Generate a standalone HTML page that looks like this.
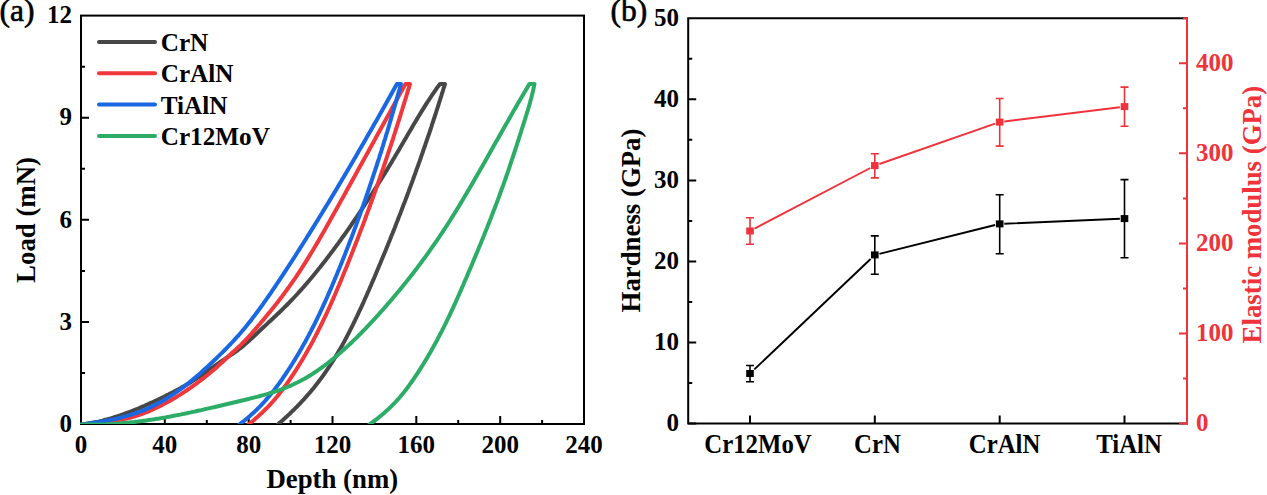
<!DOCTYPE html>
<html><head><meta charset="utf-8"><style>
html,body{margin:0;padding:0;background:#fff;}
svg{display:block;}
</style></head><body>
<svg width="1267" height="495" viewBox="0 0 1267 495">
<rect width="1267" height="495" fill="#fff"/>
<rect x="81" y="15.6" width="503" height="408.4" fill="none" stroke="#000" stroke-width="2"/>
<path d="M81.0,424V416 M122.9,424V420 M164.8,424V416 M206.8,424V420 M248.7,424V416 M290.6,424V420 M332.5,424V416 M374.4,424V420 M416.3,424V416 M458.2,424V420 M500.2,424V416 M542.1,424V420 M584.0,424V416 M81,424.0H89 M81,372.9H85 M81,321.9H89 M81,270.9H85 M81,219.8H89 M81,168.8H85 M81,117.7H89 M81,66.7H85" stroke="#000" stroke-width="2" fill="none"/>
<clipPath id="cl"><rect x="80" y="15.6" width="504" height="408.4"/></clipPath><g clip-path="url(#cl)">
<path transform="translate(0.5,0.4)" d="M81.0,424.0 L83.1,423.8 L85.2,423.5 L87.3,423.2 L89.4,422.8 L91.5,422.4 L93.6,422.0 L95.7,421.6 L97.8,421.2 L99.9,420.7 L102.0,420.2 L104.1,419.6 L106.2,419.1 L108.3,418.5 L110.4,417.9 L112.5,417.3 L114.6,416.6 L116.7,415.9 L118.8,415.2 L120.9,414.5 L123.0,413.8 L125.1,413.0 L127.2,412.2 L129.3,411.4 L131.4,410.6 L133.5,409.8 L135.6,408.9 L137.7,408.1 L139.8,407.2 L141.9,406.3 L144.0,405.4 L146.1,404.4 L148.2,403.5 L150.3,402.5 L152.4,401.6 L154.5,400.6 L156.6,399.6 L158.7,398.6 L160.8,397.6 L162.9,396.6 L165.0,395.5 L167.1,394.5 L169.2,393.4 L171.3,392.3 L173.4,391.3 L175.5,390.1 L177.6,389.0 L179.7,387.9 L181.8,386.7 L183.9,385.5 L186.0,384.3 L188.1,383.1 L190.2,381.8 L192.3,380.5 L194.4,379.2 L196.5,377.8 L198.6,376.4 L200.7,375.0 L202.8,373.6 L204.9,372.1 L207.0,370.6 L209.1,369.1 L211.2,367.6 L213.3,366.2 L215.4,364.7 L217.5,363.2 L219.6,361.8 L221.7,360.3 L223.8,358.9 L225.9,357.6 L228.0,356.2 L230.1,354.8 L232.2,353.4 L234.3,351.9 L236.4,350.4 L238.5,348.8 L240.6,347.2 L242.7,345.5 L244.8,343.7 L246.9,341.8 L249.0,340.0 L251.1,338.0 L253.2,336.1 L255.3,334.1 L257.4,332.1 L259.5,330.1 L261.6,328.1 L263.7,326.2 L265.8,324.2 L267.9,322.2 L270.0,320.3 L272.1,318.3 L274.2,316.3 L276.3,314.3 L278.4,312.3 L280.5,310.3 L282.6,308.3 L284.7,306.2 L286.8,304.1 L288.9,302.0 L290.3,300.5 L291.7,299.1 L293.1,297.6 L294.5,296.1 L295.9,294.6 L297.3,293.1 L298.7,291.5 L300.1,290.0 L301.5,288.4 L302.9,286.8 L304.3,285.2 L305.7,283.6 L307.1,282.0 L308.5,280.4 L309.9,278.7 L311.3,277.0 L312.7,275.3 L314.1,273.6 L315.5,271.9 L316.9,270.2 L318.3,268.4 L319.7,266.7 L321.1,264.9 L322.5,263.1 L323.9,261.3 L325.3,259.5 L326.7,257.7 L328.1,255.9 L329.5,254.0 L330.9,252.1 L332.3,250.3 L333.7,248.4 L335.1,246.5 L336.5,244.6 L337.9,242.7 L339.3,240.7 L340.7,238.8 L342.1,236.8 L343.5,234.9 L344.9,232.9 L346.3,230.9 L347.7,228.9 L349.1,226.9 L350.5,224.9 L351.9,222.8 L353.3,220.8 L354.7,218.7 L356.1,216.7 L357.5,214.6 L358.9,212.5 L360.3,210.4 L361.7,208.3 L363.1,206.2 L364.5,204.1 L365.9,201.9 L367.3,199.8 L368.7,197.6 L370.1,195.5 L371.5,193.3 L372.9,191.1 L374.3,188.9 L375.7,186.7 L377.1,184.5 L378.5,182.3 L379.9,180.0 L381.3,177.8 L382.7,175.5 L384.1,173.3 L385.5,171.0 L386.9,168.7 L388.3,166.4 L389.7,164.1 L391.1,161.8 L392.5,159.4 L393.9,157.1 L395.3,154.7 L396.7,152.4 L398.1,150.0 L399.5,147.6 L400.9,145.2 L402.3,142.8 L403.7,140.4 L405.1,138.0 L406.5,135.6 L407.9,133.2 L409.3,130.8 L410.7,128.5 L412.1,126.1 L413.5,123.7 L414.9,121.3 L416.3,119.0 L417.7,116.6 L419.1,114.3 L420.5,112.0 L421.9,109.7 L423.3,107.5 L424.7,105.2 L426.1,103.0 L427.5,100.8 L428.9,98.7 L430.3,96.6 L431.7,94.5 L433.1,92.4 L434.5,90.4 L435.9,88.4 L437.3,86.5 L438.7,84.6 L439.5,83.5 L444.5,83.5 L443.8,85.9 L443.0,88.3 L442.3,90.7 L441.5,93.1 L440.8,95.5 L440.0,97.9 L439.3,100.3 L438.5,102.7 L437.8,105.1 L437.0,107.5 L436.2,109.9 L435.5,112.3 L434.7,114.7 L433.9,117.1 L433.1,119.5 L432.3,121.9 L431.5,124.3 L430.8,126.7 L430.0,129.1 L429.2,131.5 L428.4,133.9 L427.5,136.3 L426.7,138.7 L425.9,141.1 L425.1,143.5 L424.3,145.9 L423.4,148.3 L422.6,150.7 L421.8,153.1 L420.9,155.5 L420.1,157.9 L419.3,160.3 L418.4,162.7 L417.6,165.1 L416.7,167.5 L415.8,169.9 L415.0,172.3 L414.1,174.7 L413.2,177.1 L412.4,179.5 L411.5,181.9 L410.6,184.3 L409.7,186.7 L408.8,189.1 L408.0,191.5 L407.1,193.9 L406.2,196.3 L405.3,198.7 L404.4,201.1 L403.4,203.5 L402.5,205.9 L401.6,208.3 L400.7,210.7 L399.8,213.1 L398.8,215.5 L397.9,217.9 L397.0,220.3 L396.0,222.7 L395.1,225.1 L394.2,227.5 L393.2,229.9 L392.3,232.3 L391.3,234.7 L390.3,237.1 L389.4,239.5 L388.4,241.9 L387.4,244.3 L386.5,246.7 L385.5,249.1 L384.5,251.5 L383.5,253.9 L382.5,256.3 L381.5,258.7 L380.5,261.1 L379.5,263.5 L378.5,265.9 L377.5,268.3 L376.5,270.7 L375.5,273.1 L374.5,275.5 L373.5,277.9 L372.4,280.3 L371.4,282.7 L370.4,285.1 L369.3,287.5 L368.3,289.9 L367.2,292.3 L366.2,294.7 L365.1,297.1 L364.0,299.5 L363.0,301.9 L361.9,304.3 L360.8,306.7 L359.7,309.1 L358.5,311.5 L357.4,313.9 L356.3,316.3 L355.1,318.7 L354.0,321.1 L352.8,323.5 L351.6,325.9 L350.4,328.3 L349.2,330.7 L348.0,333.1 L346.7,335.5 L345.5,337.9 L344.2,340.3 L342.9,342.7 L341.6,345.1 L340.2,347.5 L338.8,349.9 L337.4,352.3 L336.0,354.7 L334.6,357.1 L333.1,359.5 L331.6,361.9 L330.0,364.3 L328.4,366.7 L326.8,369.1 L325.2,371.5 L323.5,373.9 L321.8,376.3 L320.0,378.7 L318.2,381.1 L317.0,382.7 L315.7,384.3 L314.5,385.9 L313.2,387.5 L311.9,389.1 L310.6,390.7 L309.2,392.3 L307.8,393.9 L306.4,395.5 L305.0,397.1 L303.6,398.7 L302.1,400.3 L300.6,401.9 L299.1,403.5 L297.6,405.1 L296.0,406.7 L294.4,408.3 L292.8,409.9 L291.1,411.5 L289.5,413.1 L287.8,414.7 L286.0,416.3 L284.3,417.9 L282.5,419.5 L280.7,421.1 L278.8,422.7 L277.3,424.0" fill="none" stroke="#474747" stroke-width="4" stroke-linejoin="round" stroke-linecap="round"/>
<path transform="translate(0.5,0.4)" d="M81.0,424.0 L83.1,424.4 L85.2,424.5 L87.3,424.5 L89.4,424.3 L91.5,424.0 L93.6,423.7 L95.7,423.3 L97.8,422.8 L99.9,422.4 L102.0,422.0 L104.1,421.7 L106.2,421.3 L108.3,421.0 L110.4,420.7 L112.5,420.4 L114.6,420.1 L116.7,419.8 L118.8,419.5 L120.9,419.1 L123.0,418.7 L125.1,418.3 L127.2,417.8 L129.3,417.3 L131.4,416.8 L133.5,416.2 L135.6,415.5 L137.7,414.9 L139.8,414.1 L141.9,413.4 L144.0,412.6 L146.1,411.8 L148.2,410.9 L150.3,410.0 L152.4,409.1 L154.5,408.1 L156.6,407.1 L158.7,406.1 L160.8,405.0 L162.9,403.9 L165.0,402.8 L167.1,401.7 L169.2,400.5 L171.3,399.3 L173.4,398.0 L175.5,396.8 L177.6,395.5 L179.7,394.2 L181.8,392.8 L183.9,391.5 L186.0,390.1 L188.1,388.6 L190.2,387.2 L192.3,385.7 L194.4,384.2 L196.5,382.7 L198.6,381.1 L200.7,379.5 L202.8,377.9 L204.9,376.3 L207.0,374.6 L209.1,372.9 L211.2,371.1 L213.3,369.3 L215.4,367.5 L217.5,365.6 L219.6,363.7 L221.7,361.8 L223.8,359.8 L225.9,357.8 L228.0,355.8 L230.1,353.9 L232.2,351.9 L234.3,350.0 L236.4,348.1 L238.5,346.2 L240.6,344.2 L242.7,342.1 L244.1,340.7 L245.5,339.2 L246.9,337.7 L248.3,336.2 L249.7,334.6 L251.1,333.1 L252.5,331.5 L253.9,329.9 L255.3,328.2 L256.7,326.6 L258.1,324.9 L259.5,323.3 L260.9,321.6 L262.3,320.0 L263.7,318.3 L265.1,316.6 L266.5,314.9 L267.9,313.2 L269.3,311.5 L270.7,309.8 L272.1,308.0 L273.5,306.3 L274.9,304.5 L276.3,302.8 L277.7,301.0 L279.1,299.2 L280.5,297.3 L281.9,295.5 L283.3,293.6 L284.7,291.7 L286.1,289.8 L287.5,287.9 L288.9,286.0 L290.3,284.0 L291.7,282.0 L293.1,280.0 L294.5,278.0 L295.9,275.9 L297.3,273.8 L298.7,271.7 L300.1,269.6 L301.5,267.4 L302.9,265.2 L304.3,263.0 L305.7,260.7 L307.1,258.5 L308.5,256.2 L309.9,253.9 L311.3,251.6 L312.7,249.3 L314.1,246.9 L315.5,244.5 L316.9,242.2 L318.3,239.8 L319.7,237.3 L321.1,234.9 L322.5,232.5 L323.9,230.0 L325.3,227.6 L326.7,225.1 L328.1,222.6 L329.5,220.1 L330.9,217.6 L332.3,215.1 L333.7,212.6 L335.1,210.1 L336.5,207.6 L337.9,205.1 L339.3,202.6 L340.7,200.0 L342.1,197.5 L343.5,195.0 L344.9,192.5 L346.3,189.9 L347.7,187.4 L349.1,184.9 L350.5,182.3 L351.9,179.8 L353.3,177.3 L354.7,174.8 L356.1,172.2 L357.5,169.7 L358.9,167.2 L360.3,164.6 L361.7,162.1 L363.1,159.6 L364.5,157.0 L365.9,154.5 L367.3,152.0 L368.7,149.4 L370.1,146.9 L371.5,144.3 L372.9,141.8 L374.3,139.2 L375.7,136.7 L377.1,134.2 L378.5,131.6 L379.9,129.1 L381.3,126.5 L382.7,124.0 L384.1,121.4 L385.5,118.9 L386.9,116.3 L388.3,113.8 L389.7,111.2 L391.1,108.7 L392.5,106.1 L393.9,103.6 L395.3,101.0 L396.7,98.5 L398.1,95.9 L399.5,93.4 L400.9,90.9 L402.3,88.4 L403.7,85.8 L405.0,83.5 L409.5,83.5 L408.8,85.9 L408.1,88.3 L407.3,90.7 L406.6,93.1 L405.9,95.5 L405.2,97.9 L404.4,100.3 L403.7,102.7 L403.0,105.1 L402.2,107.5 L401.5,109.9 L400.7,112.3 L400.0,114.7 L399.2,117.1 L398.5,119.5 L397.7,121.9 L397.0,124.3 L396.2,126.7 L395.4,129.1 L394.7,131.5 L393.9,133.9 L393.1,136.3 L392.4,138.7 L391.6,141.1 L390.8,143.5 L390.0,145.9 L389.2,148.3 L388.4,150.7 L387.6,153.1 L386.8,155.5 L386.0,157.9 L385.2,160.3 L384.4,162.7 L383.6,165.1 L382.8,167.5 L382.0,169.9 L381.1,172.3 L380.3,174.7 L379.5,177.1 L378.6,179.5 L377.8,181.9 L377.0,184.3 L376.1,186.7 L375.3,189.1 L374.4,191.5 L373.6,193.9 L372.7,196.3 L371.9,198.7 L371.0,201.1 L370.1,203.5 L369.3,205.9 L368.4,208.3 L367.5,210.7 L366.6,213.1 L365.7,215.5 L364.9,217.9 L364.0,220.3 L363.1,222.7 L362.2,225.1 L361.3,227.5 L360.3,229.9 L359.4,232.3 L358.5,234.7 L357.6,237.1 L356.7,239.5 L355.7,241.9 L354.8,244.3 L353.9,246.7 L352.9,249.1 L352.0,251.5 L351.1,253.9 L350.1,256.3 L349.1,258.7 L348.2,261.1 L347.2,263.5 L346.3,265.9 L345.3,268.3 L344.3,270.7 L343.3,273.1 L342.3,275.5 L341.4,277.9 L340.4,280.3 L339.4,282.7 L338.4,285.1 L337.3,287.5 L336.3,289.9 L335.3,292.3 L334.3,294.7 L333.2,297.1 L332.2,299.5 L331.1,301.9 L330.1,304.3 L329.0,306.7 L327.9,309.1 L326.8,311.5 L325.7,313.9 L324.6,316.3 L323.4,318.7 L322.3,321.1 L321.1,323.5 L319.9,325.9 L318.7,328.3 L317.5,330.7 L316.3,333.1 L315.1,335.5 L313.8,337.9 L312.6,340.3 L311.3,342.7 L310.0,345.1 L308.6,347.5 L307.3,349.9 L305.9,352.3 L304.6,354.7 L303.2,357.1 L301.7,359.5 L300.3,361.9 L298.8,364.3 L297.3,366.7 L295.8,369.1 L294.3,371.5 L292.7,373.9 L291.1,376.3 L289.5,378.7 L287.9,381.1 L286.2,383.5 L284.5,385.9 L282.7,388.3 L281.5,389.9 L280.3,391.5 L279.0,393.1 L277.8,394.7 L276.5,396.3 L275.1,397.9 L273.8,399.5 L272.4,401.1 L270.9,402.7 L269.5,404.3 L268.0,405.9 L266.4,407.5 L264.8,409.1 L263.2,410.7 L261.6,412.3 L259.8,413.9 L258.1,415.5 L256.3,417.1 L254.5,418.7 L252.6,420.3 L250.6,421.9 L248.6,423.5 L248.0,424.0" fill="none" stroke="#F0373B" stroke-width="4" stroke-linejoin="round" stroke-linecap="round"/>
<path transform="translate(0.5,0.4)" d="M81.0,424.0 L83.1,423.7 L85.2,423.5 L87.3,423.2 L89.4,422.9 L91.5,422.6 L93.6,422.3 L95.7,422.0 L97.8,421.7 L99.9,421.3 L102.0,421.0 L104.1,420.6 L106.2,420.2 L108.3,419.8 L110.4,419.4 L112.5,419.0 L114.6,418.5 L116.7,418.1 L118.8,417.6 L120.9,417.0 L123.0,416.5 L125.1,415.9 L127.2,415.3 L129.3,414.7 L131.4,414.0 L133.5,413.3 L135.6,412.6 L137.7,411.9 L139.8,411.1 L141.9,410.3 L144.0,409.4 L146.1,408.5 L148.2,407.6 L150.3,406.7 L152.4,405.7 L154.5,404.6 L156.6,403.6 L158.7,402.4 L160.8,401.3 L162.9,400.1 L165.0,398.8 L167.1,397.5 L169.2,396.2 L171.3,394.8 L173.4,393.4 L175.5,392.0 L177.6,390.5 L179.7,389.0 L181.8,387.4 L183.9,385.9 L186.0,384.2 L188.1,382.6 L190.2,380.9 L192.3,379.2 L194.4,377.4 L196.5,375.6 L198.6,373.8 L200.7,372.0 L202.8,370.1 L204.9,368.2 L207.0,366.3 L209.1,364.3 L211.2,362.4 L213.3,360.4 L215.4,358.4 L217.5,356.3 L219.6,354.2 L221.7,352.2 L223.8,350.1 L225.9,347.9 L227.3,346.5 L228.7,345.0 L230.1,343.6 L231.5,342.1 L232.9,340.6 L234.3,339.0 L235.7,337.5 L237.1,335.9 L238.5,334.4 L239.9,332.8 L241.3,331.1 L242.7,329.5 L244.1,327.8 L245.5,326.1 L246.9,324.4 L248.3,322.6 L249.7,320.8 L251.1,319.0 L252.5,317.2 L253.9,315.4 L255.3,313.5 L256.7,311.6 L258.1,309.7 L259.5,307.8 L260.9,305.9 L262.3,303.9 L263.7,301.9 L265.1,300.0 L266.5,298.0 L267.9,295.9 L269.3,293.9 L270.7,291.9 L272.1,289.8 L273.5,287.8 L274.9,285.7 L276.3,283.6 L277.7,281.5 L279.1,279.4 L280.5,277.3 L281.9,275.2 L283.3,273.0 L284.7,270.9 L286.1,268.8 L287.5,266.6 L288.9,264.5 L290.3,262.3 L291.7,260.2 L293.1,258.0 L294.5,255.8 L295.9,253.6 L297.3,251.4 L298.7,249.2 L300.1,247.0 L301.5,244.8 L302.9,242.6 L304.3,240.4 L305.7,238.2 L307.1,235.9 L308.5,233.7 L309.9,231.5 L311.3,229.2 L312.7,227.0 L314.1,224.7 L315.5,222.4 L316.9,220.2 L318.3,217.9 L319.7,215.6 L321.1,213.3 L322.5,211.0 L323.9,208.7 L325.3,206.4 L326.7,204.1 L328.1,201.8 L329.5,199.5 L330.9,197.2 L332.3,194.8 L333.7,192.5 L335.1,190.2 L336.5,187.8 L337.9,185.5 L339.3,183.1 L340.7,180.8 L342.1,178.4 L343.5,176.0 L344.9,173.7 L346.3,171.3 L347.7,168.9 L349.1,166.5 L350.5,164.2 L351.9,161.8 L353.3,159.4 L354.7,157.0 L356.1,154.6 L357.5,152.1 L358.9,149.7 L360.3,147.3 L361.7,144.9 L363.1,142.5 L364.5,140.0 L365.9,137.6 L367.3,135.2 L368.7,132.7 L370.1,130.3 L371.5,127.8 L372.9,125.4 L374.3,122.9 L375.7,120.5 L377.1,118.0 L378.5,115.5 L379.9,113.1 L381.3,110.6 L382.7,108.1 L384.1,105.6 L385.5,103.1 L386.9,100.7 L388.3,98.2 L389.7,95.7 L391.1,93.2 L392.5,90.7 L393.9,88.2 L395.3,85.7 L396.5,83.5 L400.5,83.5 L399.8,85.9 L399.2,88.3 L398.5,90.7 L397.8,93.1 L397.2,95.5 L396.5,97.9 L395.8,100.3 L395.1,102.7 L394.4,105.1 L393.7,107.5 L393.0,109.9 L392.3,112.3 L391.6,114.7 L390.9,117.1 L390.2,119.5 L389.5,121.9 L388.8,124.3 L388.1,126.7 L387.4,129.1 L386.7,131.5 L385.9,133.9 L385.2,136.3 L384.5,138.7 L383.7,141.1 L383.0,143.5 L382.3,145.9 L381.5,148.3 L380.8,150.7 L380.0,153.1 L379.2,155.5 L378.5,157.9 L377.7,160.3 L376.9,162.7 L376.2,165.1 L375.4,167.5 L374.6,169.9 L373.8,172.3 L373.0,174.7 L372.2,177.1 L371.4,179.5 L370.6,181.9 L369.8,184.3 L369.0,186.7 L368.2,189.1 L367.4,191.5 L366.6,193.9 L365.7,196.3 L364.9,198.7 L364.1,201.1 L363.2,203.5 L362.4,205.9 L361.5,208.3 L360.7,210.7 L359.8,213.1 L359.0,215.5 L358.1,217.9 L357.2,220.3 L356.3,222.7 L355.5,225.1 L354.6,227.5 L353.7,229.9 L352.8,232.3 L351.9,234.7 L351.0,237.1 L350.0,239.5 L349.1,241.9 L348.2,244.3 L347.3,246.7 L346.3,249.1 L345.4,251.5 L344.5,253.9 L343.5,256.3 L342.6,258.7 L341.6,261.1 L340.6,263.5 L339.7,265.9 L338.7,268.3 L337.7,270.7 L336.7,273.1 L335.7,275.5 L334.7,277.9 L333.7,280.3 L332.7,282.7 L331.7,285.1 L330.7,287.5 L329.6,289.9 L328.6,292.3 L327.5,294.7 L326.5,297.1 L325.4,299.5 L324.3,301.9 L323.2,304.3 L322.1,306.7 L321.0,309.1 L319.9,311.5 L318.8,313.9 L317.6,316.3 L316.4,318.7 L315.3,321.1 L314.1,323.5 L312.9,325.9 L311.6,328.3 L310.4,330.7 L309.1,333.1 L307.9,335.5 L306.6,337.9 L305.3,340.3 L304.0,342.7 L302.6,345.1 L301.3,347.5 L299.9,349.9 L298.5,352.3 L297.1,354.7 L295.6,357.1 L294.2,359.5 L292.7,361.9 L291.2,364.3 L289.7,366.7 L288.1,369.1 L286.5,371.5 L284.9,373.9 L283.3,376.3 L281.7,378.7 L280.0,381.1 L278.3,383.5 L276.5,385.9 L274.7,388.3 L273.5,389.9 L272.2,391.5 L270.9,393.1 L269.6,394.7 L268.3,396.3 L266.9,397.9 L265.5,399.5 L264.1,401.1 L262.6,402.7 L261.1,404.3 L259.6,405.9 L258.0,407.5 L256.4,409.1 L254.7,410.7 L253.0,412.3 L251.2,413.9 L249.4,415.5 L247.6,417.1 L245.7,418.7 L243.7,420.3 L241.7,421.9 L239.7,423.5 L239.0,424.0" fill="none" stroke="#1967E2" stroke-width="4" stroke-linejoin="round" stroke-linecap="round"/>
<path transform="translate(0.5,0.4)" d="M81.0,424.0 L83.1,424.1 L85.2,424.1 L87.3,424.2 L89.4,424.2 L91.5,424.2 L93.6,424.2 L95.7,424.2 L97.8,424.1 L99.9,424.1 L102.0,424.0 L104.1,424.0 L106.2,423.9 L108.3,423.8 L110.4,423.7 L112.5,423.5 L114.6,423.4 L116.7,423.3 L118.8,423.1 L120.9,422.9 L123.0,422.7 L125.1,422.5 L127.2,422.3 L129.3,422.1 L131.4,421.9 L133.5,421.7 L135.6,421.4 L137.7,421.2 L139.8,420.9 L141.9,420.6 L144.0,420.3 L146.1,420.0 L148.2,419.7 L150.3,419.4 L152.4,419.1 L154.5,418.7 L156.6,418.4 L158.7,418.1 L160.8,417.7 L162.9,417.3 L165.0,417.0 L167.1,416.6 L169.2,416.2 L171.3,415.8 L173.4,415.4 L175.5,415.0 L177.6,414.6 L179.7,414.2 L181.8,413.7 L183.9,413.3 L186.0,412.9 L188.1,412.4 L190.2,412.0 L192.3,411.5 L194.4,411.1 L196.5,410.6 L198.6,410.1 L200.7,409.7 L202.8,409.2 L204.9,408.7 L207.0,408.2 L209.1,407.7 L211.2,407.2 L213.3,406.8 L215.4,406.3 L217.5,405.8 L219.6,405.3 L221.7,404.8 L223.8,404.3 L225.9,403.8 L228.0,403.3 L230.1,402.8 L232.2,402.3 L234.3,401.8 L236.4,401.3 L238.5,400.8 L240.6,400.3 L242.7,399.8 L244.8,399.3 L246.9,398.8 L249.0,398.3 L251.1,397.7 L253.2,397.2 L255.3,396.7 L257.4,396.2 L259.5,395.6 L261.6,395.0 L263.7,394.5 L265.8,393.9 L267.9,393.3 L270.0,392.6 L272.1,392.0 L274.2,391.3 L276.3,390.6 L278.4,389.9 L280.5,389.1 L282.6,388.3 L284.7,387.5 L286.8,386.6 L288.9,385.8 L291.0,384.9 L293.1,383.9 L295.2,382.9 L297.3,381.9 L299.4,380.8 L301.5,379.7 L303.6,378.5 L305.7,377.3 L307.8,376.1 L309.9,374.8 L312.0,373.5 L314.1,372.1 L316.2,370.7 L318.3,369.3 L320.4,367.8 L322.5,366.2 L324.6,364.7 L326.7,363.1 L328.8,361.5 L330.9,359.8 L333.0,358.1 L335.1,356.3 L337.2,354.6 L339.3,352.8 L341.4,350.9 L343.5,349.1 L345.6,347.2 L347.7,345.2 L349.8,343.3 L351.9,341.3 L354.0,339.2 L356.1,337.2 L358.2,335.1 L360.3,333.0 L362.4,330.8 L363.8,329.4 L365.2,328.0 L366.6,326.5 L368.0,325.0 L369.4,323.5 L370.8,322.0 L372.2,320.5 L373.6,319.0 L375.0,317.5 L376.4,315.9 L377.8,314.4 L379.2,312.8 L380.6,311.2 L382.0,309.7 L383.4,308.1 L384.8,306.5 L386.2,304.9 L387.6,303.2 L389.0,301.6 L390.4,300.0 L391.8,298.3 L393.2,296.7 L394.6,295.0 L396.0,293.4 L397.4,291.7 L398.8,290.0 L400.2,288.3 L401.6,286.6 L403.0,284.8 L404.4,283.1 L405.8,281.4 L407.2,279.6 L408.6,277.8 L410.0,276.1 L411.4,274.3 L412.8,272.5 L414.2,270.7 L415.6,268.8 L417.0,267.0 L418.4,265.1 L419.8,263.3 L421.2,261.4 L422.6,259.5 L424.0,257.6 L425.4,255.7 L426.8,253.7 L428.2,251.8 L429.6,249.8 L431.0,247.8 L432.4,245.8 L433.8,243.8 L435.2,241.8 L436.6,239.8 L438.0,237.7 L439.4,235.6 L440.8,233.5 L442.2,231.4 L443.6,229.3 L445.0,227.1 L446.4,225.0 L447.8,222.8 L449.2,220.6 L450.6,218.4 L452.0,216.2 L453.4,213.9 L454.8,211.7 L456.2,209.4 L457.6,207.1 L459.0,204.8 L460.4,202.5 L461.8,200.1 L463.2,197.8 L464.6,195.4 L466.0,193.1 L467.4,190.7 L468.8,188.3 L470.2,185.9 L471.6,183.5 L473.0,181.1 L474.4,178.7 L475.8,176.2 L477.2,173.8 L478.6,171.4 L480.0,168.9 L481.4,166.5 L482.8,164.0 L484.2,161.5 L485.6,159.1 L487.0,156.6 L488.4,154.1 L489.8,151.7 L491.2,149.2 L492.6,146.7 L494.0,144.2 L495.4,141.7 L496.8,139.3 L498.2,136.8 L499.6,134.3 L501.0,131.8 L502.4,129.4 L503.8,126.9 L505.2,124.4 L506.6,122.0 L508.0,119.5 L509.4,117.0 L510.8,114.6 L512.2,112.1 L513.6,109.7 L515.0,107.3 L516.4,104.9 L517.8,102.4 L519.2,100.0 L520.6,97.7 L522.0,95.3 L523.4,92.9 L524.8,90.5 L526.2,88.2 L527.6,85.8 L529.0,83.5 L534.0,83.5 L533.5,85.9 L533.0,88.3 L532.5,90.7 L531.9,93.1 L531.3,95.5 L530.7,97.9 L530.0,100.3 L529.4,102.7 L528.7,105.1 L528.0,107.5 L527.3,109.9 L526.5,112.3 L525.8,114.7 L525.0,117.1 L524.3,119.5 L523.5,121.9 L522.8,124.3 L522.0,126.7 L521.2,129.1 L520.5,131.5 L519.7,133.9 L518.9,136.3 L518.2,138.7 L517.4,141.1 L516.6,143.5 L515.9,145.9 L515.1,148.3 L514.3,150.7 L513.5,153.1 L512.7,155.5 L511.9,157.9 L511.1,160.3 L510.3,162.7 L509.5,165.1 L508.7,167.5 L507.9,169.9 L507.1,172.3 L506.2,174.7 L505.4,177.1 L504.6,179.5 L503.7,181.9 L502.9,184.3 L502.0,186.7 L501.1,189.1 L500.2,191.5 L499.4,193.9 L498.5,196.3 L497.6,198.7 L496.7,201.1 L495.8,203.5 L494.9,205.9 L494.0,208.3 L493.0,210.7 L492.1,213.1 L491.2,215.5 L490.3,217.9 L489.3,220.3 L488.4,222.7 L487.4,225.1 L486.5,227.5 L485.5,229.9 L484.5,232.3 L483.6,234.7 L482.6,237.1 L481.6,239.5 L480.7,241.9 L479.7,244.3 L478.7,246.7 L477.7,249.1 L476.7,251.5 L475.7,253.9 L474.7,256.3 L473.7,258.7 L472.7,261.1 L471.7,263.5 L470.7,265.9 L469.7,268.3 L468.6,270.7 L467.6,273.1 L466.6,275.5 L465.6,277.9 L464.5,280.3 L463.5,282.7 L462.5,285.1 L461.4,287.5 L460.4,289.9 L459.3,292.3 L458.3,294.7 L457.2,297.1 L456.1,299.5 L455.1,301.9 L454.0,304.3 L452.9,306.7 L451.8,309.1 L450.6,311.5 L449.5,313.9 L448.4,316.3 L447.2,318.7 L446.1,321.1 L444.9,323.5 L443.7,325.9 L442.5,328.3 L441.3,330.7 L440.0,333.1 L438.8,335.5 L437.5,337.9 L436.3,340.3 L435.0,342.7 L433.6,345.1 L432.3,347.5 L431.0,349.9 L429.6,352.3 L428.2,354.7 L426.8,357.1 L425.4,359.5 L423.9,361.9 L422.4,364.3 L420.9,366.7 L419.4,369.1 L417.9,371.5 L416.3,373.9 L414.7,376.3 L413.1,378.7 L411.4,381.1 L409.7,383.5 L408.0,385.9 L406.2,388.3 L405.0,389.9 L403.7,391.5 L402.4,393.1 L401.1,394.7 L399.8,396.3 L398.4,397.9 L396.9,399.5 L395.5,401.1 L394.0,402.7 L392.4,404.3 L390.8,405.9 L389.2,407.5 L387.5,409.1 L385.7,410.7 L383.9,412.3 L382.1,413.9 L380.2,415.5 L378.2,417.1 L376.2,418.7 L374.1,420.3 L371.9,421.9 L369.7,423.5 L369.0,424.0" fill="none" stroke="#2CAD67" stroke-width="4" stroke-linejoin="round" stroke-linecap="round"/>
</g>
<text transform="translate(81.00,452.60) scale(1,1.04)" font-family="Liberation Serif" font-weight="bold" font-size="25" text-anchor="middle">0</text>
<text transform="translate(164.83,452.60) scale(1,1.04)" font-family="Liberation Serif" font-weight="bold" font-size="25" text-anchor="middle">40</text>
<text transform="translate(248.67,452.60) scale(1,1.04)" font-family="Liberation Serif" font-weight="bold" font-size="25" text-anchor="middle">80</text>
<text transform="translate(332.50,452.60) scale(1,1.04)" font-family="Liberation Serif" font-weight="bold" font-size="25" text-anchor="middle">120</text>
<text transform="translate(416.33,452.60) scale(1,1.04)" font-family="Liberation Serif" font-weight="bold" font-size="25" text-anchor="middle">160</text>
<text transform="translate(500.17,452.60) scale(1,1.04)" font-family="Liberation Serif" font-weight="bold" font-size="25" text-anchor="middle">200</text>
<text transform="translate(584.00,452.60) scale(1,1.04)" font-family="Liberation Serif" font-weight="bold" font-size="25" text-anchor="middle">240</text>
<text transform="translate(72.00,431.70) scale(1,1.04)" font-family="Liberation Serif" font-weight="bold" font-size="25" text-anchor="end">0</text>
<text transform="translate(72.00,329.60) scale(1,1.04)" font-family="Liberation Serif" font-weight="bold" font-size="25" text-anchor="end">3</text>
<text transform="translate(72.00,227.50) scale(1,1.04)" font-family="Liberation Serif" font-weight="bold" font-size="25" text-anchor="end">6</text>
<text transform="translate(72.00,125.40) scale(1,1.04)" font-family="Liberation Serif" font-weight="bold" font-size="25" text-anchor="end">9</text>
<text transform="translate(72.00,23.30) scale(1,1.04)" font-family="Liberation Serif" font-weight="bold" font-size="25" text-anchor="end">12</text>
<line x1="99" y1="42.0" x2="155" y2="42.0" stroke="#474747" stroke-width="4" stroke-linecap="round"/>
<text transform="translate(160.70,51.10) scale(1,1.03)" font-family="Liberation Serif" font-weight="bold" font-size="25.2">CrN</text>
<line x1="99" y1="73.3" x2="155" y2="73.3" stroke="#F0373B" stroke-width="4" stroke-linecap="round"/>
<text transform="translate(160.70,82.40) scale(1,1.03)" font-family="Liberation Serif" font-weight="bold" font-size="25.2">CrAlN</text>
<line x1="99" y1="104.6" x2="155" y2="104.6" stroke="#1967E2" stroke-width="4" stroke-linecap="round"/>
<text transform="translate(160.70,113.70) scale(1,1.03)" font-family="Liberation Serif" font-weight="bold" font-size="25.2">TiAlN</text>
<line x1="99" y1="135.9" x2="155" y2="135.9" stroke="#2CAD67" stroke-width="4" stroke-linecap="round"/>
<text transform="translate(160.70,145.00) scale(1,1.03)" font-family="Liberation Serif" font-weight="bold" font-size="25.2">Cr12MoV</text>
<text transform="translate(332.30,488.00) scale(1,1.04)" font-family="Liberation Serif" font-weight="bold" font-size="26.8" text-anchor="middle">Depth (nm)</text>
<text transform="translate(34.7,220) rotate(-90)" font-family="Liberation Serif" font-weight="bold" font-size="26.8" text-anchor="middle">Load (mN)</text>
<text x="-0.5" y="21.1" font-family="Liberation Serif" font-size="31.5" stroke="#000" stroke-width="0.6">(a)</text>
<path d="M754.5,228.6L870.3,168.0M879.4,164.0L995.1,123.7M1004.3,121.5L1119.9,107.2" fill="none" stroke="#F0323A" stroke-width="1.9"/><path d="M750.0,217.8V244.2M746.0,217.8H754.0M746.0,244.2H754.0M874.8,153.8V177.9M870.8,153.8H878.8M870.8,177.9H878.8M999.7,98.5V146.1M995.7,98.5H1003.7M995.7,146.1H1003.7M1124.5,87.1V126.2M1120.5,87.1H1128.5M1120.5,126.2H1128.5" stroke="#F0323A" stroke-width="1.6" fill="none"/><rect x="746.2" y="227.5" width="7.6" height="7" fill="#F0323A"/><rect x="871.0" y="162.1" width="7.6" height="7" fill="#F0323A"/><rect x="995.9" y="118.6" width="7.6" height="7" fill="#F0323A"/><rect x="1120.7" y="103.1" width="7.6" height="7" fill="#F0323A"/>
<path d="M754.3,369.4L870.6,259.0M879.4,253.8L995.1,225.0M1004.3,223.7L1119.9,218.8" fill="none" stroke="#000" stroke-width="1.9"/><path d="M750.0,365.5V381.7M746.0,365.5H754.0M746.0,381.7H754.0M874.8,235.9V274.3M870.8,235.9H878.8M870.8,274.3H878.8M999.7,194.7V253.7M995.7,194.7H1003.7M995.7,253.7H1003.7M1124.5,179.6V257.7M1120.5,179.6H1128.5M1120.5,257.7H1128.5" stroke="#000" stroke-width="1.6" fill="none"/><rect x="746.2" y="370.0" width="7.6" height="7" fill="#000"/><rect x="871.0" y="251.4" width="7.6" height="7" fill="#000"/><rect x="995.9" y="220.4" width="7.6" height="7" fill="#000"/><rect x="1120.7" y="215.1" width="7.6" height="7" fill="#000"/>
<path d="M688.2,18.2V423.6H1187M688.2,18.2H1187" stroke="#000" stroke-width="2" fill="none" stroke-linecap="square"/>
<path d="M1187,17.2V424.6" stroke="#F0323A" stroke-width="2" fill="none"/>
<path d="M688.2,423.6H696.2 M688.2,383.1H692.2 M688.2,342.5H696.2 M688.2,302.0H692.2 M688.2,261.4H696.2 M688.2,220.9H692.2 M688.2,180.4H696.2 M688.2,139.8H692.2 M688.2,99.3H696.2 M688.2,58.7H692.2 M750.0,423.6V415.6 M874.8,423.6V415.6 M999.7,423.6V415.6 M1124.5,423.6V415.6" stroke="#000" stroke-width="2" fill="none"/>
<path d="M1187,423.6H1179 M1187,378.6H1183 M1187,333.5H1179 M1187,288.5H1183 M1187,243.4H1179 M1187,198.4H1183 M1187,153.3H1179 M1187,108.3H1183 M1187,63.2H1179 M1187,18.2H1183" stroke="#F0323A" stroke-width="2" fill="none"/>
<text transform="translate(679.00,431.30) scale(1,1.04)" font-family="Liberation Serif" font-weight="bold" font-size="25" text-anchor="end">0</text>
<text transform="translate(679.00,350.22) scale(1,1.04)" font-family="Liberation Serif" font-weight="bold" font-size="25" text-anchor="end">10</text>
<text transform="translate(679.00,269.14) scale(1,1.04)" font-family="Liberation Serif" font-weight="bold" font-size="25" text-anchor="end">20</text>
<text transform="translate(679.00,188.06) scale(1,1.04)" font-family="Liberation Serif" font-weight="bold" font-size="25" text-anchor="end">30</text>
<text transform="translate(679.00,106.98) scale(1,1.04)" font-family="Liberation Serif" font-weight="bold" font-size="25" text-anchor="end">40</text>
<text transform="translate(679.00,25.90) scale(1,1.04)" font-family="Liberation Serif" font-weight="bold" font-size="25" text-anchor="end">50</text>
<text transform="translate(1196.00,431.30) scale(1,1.04)" font-family="Liberation Serif" font-weight="bold" font-size="25" fill="#F0323A">0</text>
<text transform="translate(1196.00,341.21) scale(1,1.04)" font-family="Liberation Serif" font-weight="bold" font-size="25" fill="#F0323A">100</text>
<text transform="translate(1196.00,251.12) scale(1,1.04)" font-family="Liberation Serif" font-weight="bold" font-size="25" fill="#F0323A">200</text>
<text transform="translate(1196.00,161.03) scale(1,1.04)" font-family="Liberation Serif" font-weight="bold" font-size="25" fill="#F0323A">300</text>
<text transform="translate(1196.00,70.94) scale(1,1.04)" font-family="Liberation Serif" font-weight="bold" font-size="25" fill="#F0323A">400</text>
<text transform="translate(758.00,452.60) scale(1,1.07)" font-family="Liberation Serif" font-weight="bold" font-size="24.8" text-anchor="middle">Cr12MoV</text>
<text transform="translate(877.50,452.60) scale(1,1.07)" font-family="Liberation Serif" font-weight="bold" font-size="24.8" text-anchor="middle">CrN</text>
<text transform="translate(1004.60,452.60) scale(1,1.07)" font-family="Liberation Serif" font-weight="bold" font-size="24.8" text-anchor="middle">CrAlN</text>
<text transform="translate(1129.00,452.60) scale(1,1.07)" font-family="Liberation Serif" font-weight="bold" font-size="24.8" text-anchor="middle">TiAlN</text>
<text transform="translate(639.8,220.5) rotate(-90)" font-family="Liberation Serif" font-weight="bold" font-size="26.8" text-anchor="middle">Hardness (GPa)</text>
<text transform="translate(1261.2,214.6) rotate(-90)" font-family="Liberation Serif" font-weight="bold" font-size="26.8" text-anchor="middle" fill="#F0323A">Elastic modulus (GPa)</text>
<text x="610.5" y="21.4" font-family="Liberation Serif" font-size="31.5" stroke="#000" stroke-width="0.6">(b)</text>
</svg>
</body></html>
